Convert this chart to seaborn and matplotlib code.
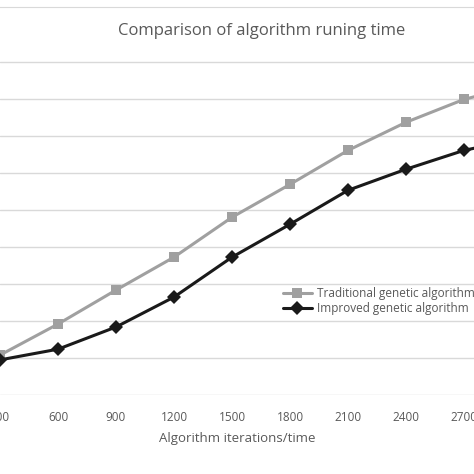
import matplotlib
matplotlib.use("Agg")
import matplotlib.pyplot as plt
import seaborn as sns
import pandas as pd

iterations = [300, 600, 900, 1200, 1500, 1800, 2100, 2400, 2700, 3000]
traditional = [1.08, 1.92, 2.84, 3.73, 4.81, 5.70, 6.62, 7.38, 8.00, 8.40]
improved = [0.95, 1.24, 1.84, 2.65, 3.73, 4.62, 5.54, 6.11, 6.62, 6.95]
labels = ["Traditional genetic algorithm", "Improved genetic algorithm"]

sns.set_style("white")
plt.rcParams['font.family'] = ['Open Sans', 'DejaVu Sans']

df = pd.DataFrame({"x": iterations * 2,
                   "y": traditional + improved,
                   "s": [labels[0]] * len(iterations) + [labels[1]] * len(iterations)})

fig = plt.figure(figsize=(4.74, 4.74), dpi=100)
ax = fig.add_axes([0, 79 / 474, 1, (395 - 7) / 474])
sns.lineplot(data=df, x="x", y="y", hue="s", style="s",
             palette=["#a0a0a0", "#1a1a1a"], markers=["s", "D"], dashes=False,
             markersize=7, linewidth=2.2, markeredgewidth=0, ax=ax)
ax.set_xticks(iterations)
ax.set_xticklabels([str(v) for v in iterations])
ax.set_yticks(range(0, 10))
ax.set_xlim(300, 300 + 474 / 58 * 300)
ax.set_ylim(0, 10.5)
ax.grid(axis="y", color="#d9d9d9", linewidth=1)
ax.tick_params(axis="y", left=False, labelleft=False)
ax.tick_params(axis="x", bottom=False, labelsize=8.5, labelcolor="#595959", pad=8)
for s in ["left", "right", "bottom"]:
    ax.spines[s].set_visible(False)
ax.spines["top"].set_color("#d9d9d9")
ax.set_xlabel("Algorithm iterations/time", fontsize=9.5, color="#595959", labelpad=6)
ax.set_ylabel("")
fig.text(262 / 474, 1 - 31 / 474, "Comparison of algorithm runing time",
         ha="center", va="center", fontsize=12, color="#595959")
leg = ax.legend(loc="upper left", bbox_to_anchor=(278 / 474, (395 - 282) / 388),
                frameon=False, fontsize=8.5, labelcolor="#595959",
                handlelength=2.5, handletextpad=0.4, labelspacing=0.2, borderaxespad=0)
fig.savefig("out.png", dpi=100)
